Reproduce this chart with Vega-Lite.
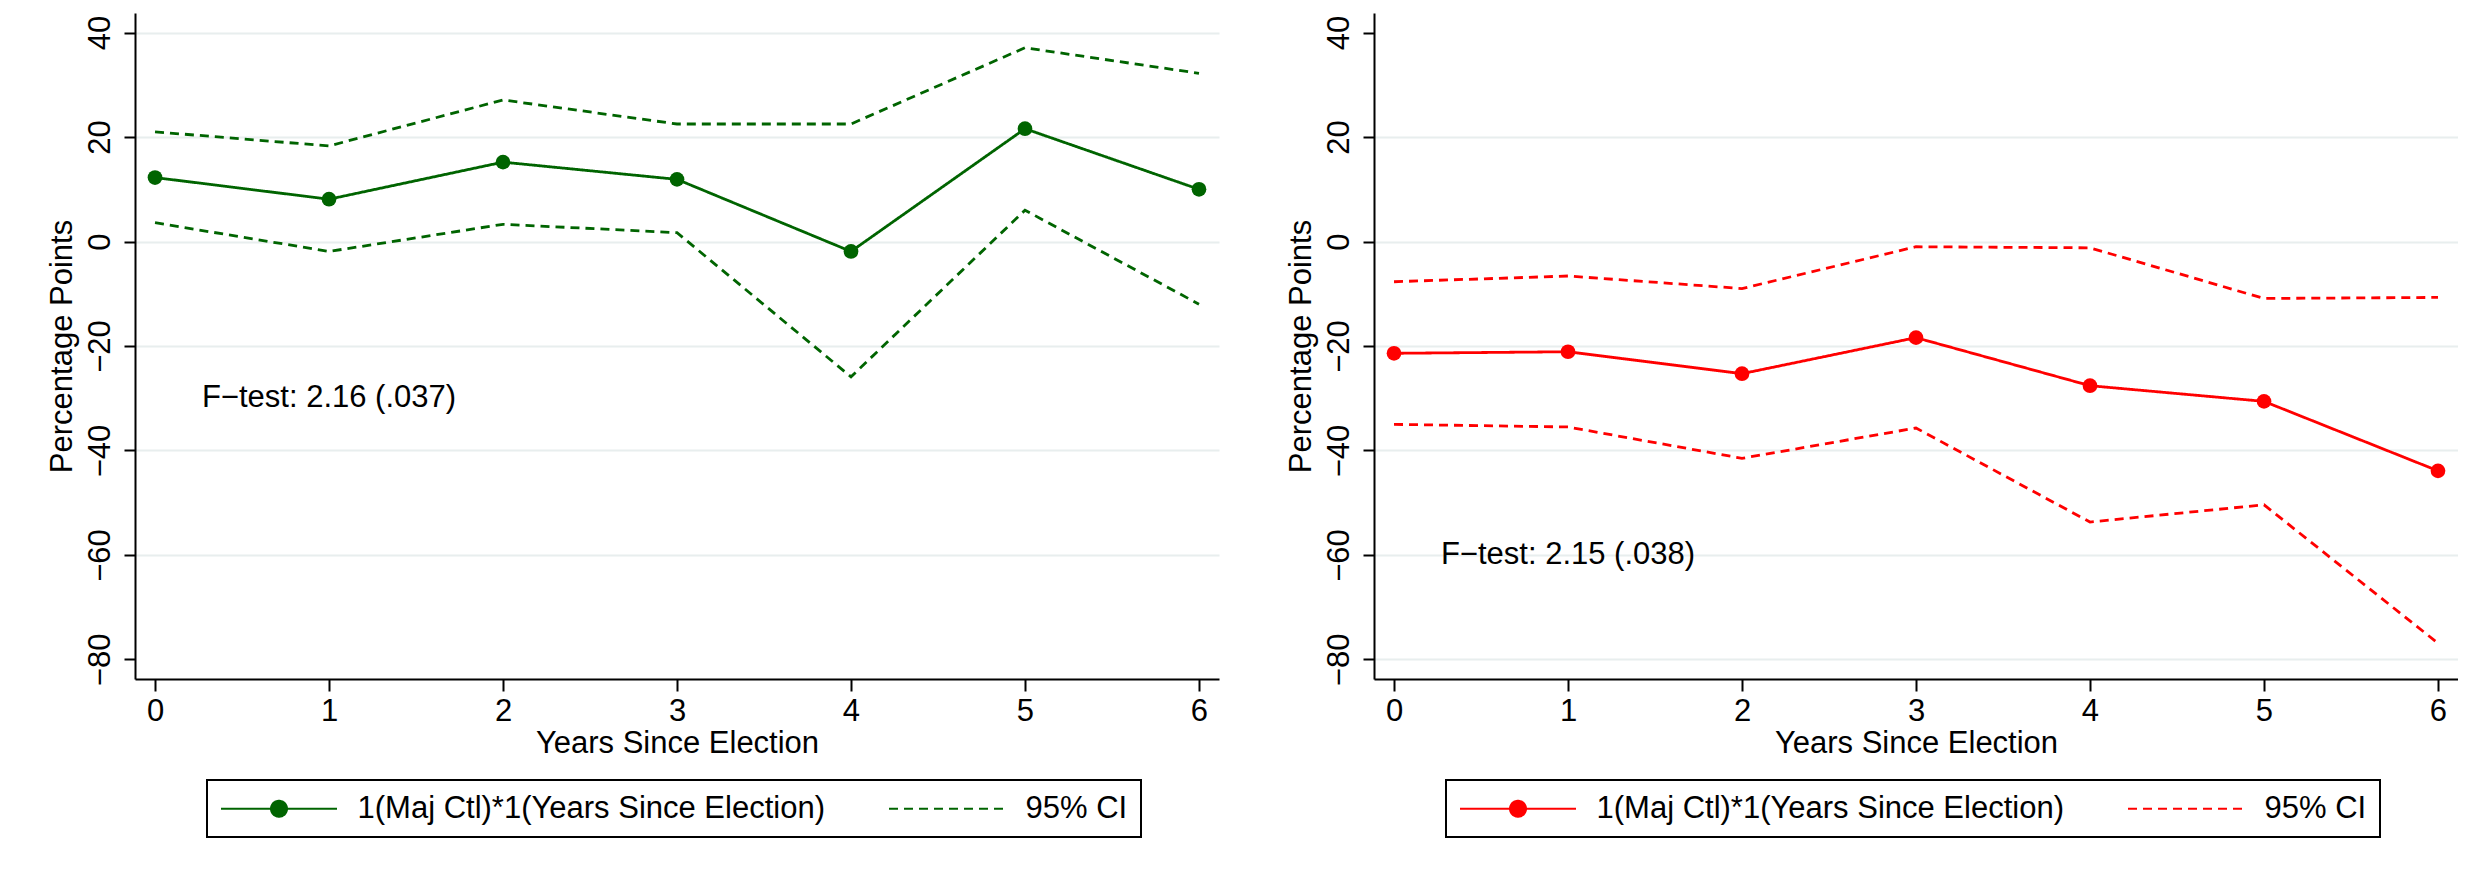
{
  "$schema": "https://vega.github.io/schema/vega-lite/v6.json",
  "background": "white",
  "padding": {"left": 46, "top": 13, "right": 0, "bottom": 0},
  "spacing": 66,
  "datasets": {
    "majority": [
      {"years": 0, "pp": 12.25, "series": "1(Maj Ctl)*1(Years Since Election)", "line": "estimate"},
      {"years": 1, "pp": 8.1, "series": "1(Maj Ctl)*1(Years Since Election)", "line": "estimate"},
      {"years": 2, "pp": 15.2, "series": "1(Maj Ctl)*1(Years Since Election)", "line": "estimate"},
      {"years": 3, "pp": 11.9, "series": "1(Maj Ctl)*1(Years Since Election)", "line": "estimate"},
      {"years": 4, "pp": -1.9, "series": "1(Maj Ctl)*1(Years Since Election)", "line": "estimate"},
      {"years": 5, "pp": 21.6, "series": "1(Maj Ctl)*1(Years Since Election)", "line": "estimate"},
      {"years": 6, "pp": 10.0, "series": "1(Maj Ctl)*1(Years Since Election)", "line": "estimate"},
      {"years": 0, "pp": 21.0, "series": "95% CI", "line": "upper"},
      {"years": 1, "pp": 18.3, "series": "95% CI", "line": "upper"},
      {"years": 2, "pp": 27.1, "series": "95% CI", "line": "upper"},
      {"years": 3, "pp": 22.5, "series": "95% CI", "line": "upper"},
      {"years": 4, "pp": 22.5, "series": "95% CI", "line": "upper"},
      {"years": 5, "pp": 37.1, "series": "95% CI", "line": "upper"},
      {"years": 6, "pp": 32.2, "series": "95% CI", "line": "upper"},
      {"years": 0, "pp": 3.6, "series": "95% CI", "line": "lower"},
      {"years": 1, "pp": -1.9, "series": "95% CI", "line": "lower"},
      {"years": 2, "pp": 3.3, "series": "95% CI", "line": "lower"},
      {"years": 3, "pp": 1.7, "series": "95% CI", "line": "lower"},
      {"years": 4, "pp": -25.9, "series": "95% CI", "line": "lower"},
      {"years": 5, "pp": 6.0, "series": "95% CI", "line": "lower"},
      {"years": 6, "pp": -12.0, "series": "95% CI", "line": "lower"}
    ],
    "minority": [
      {"years": 0, "pp": -21.4, "series": "1(Maj Ctl)*1(Years Since Election)", "line": "estimate"},
      {"years": 1, "pp": -21.1, "series": "1(Maj Ctl)*1(Years Since Election)", "line": "estimate"},
      {"years": 2, "pp": -25.3, "series": "1(Maj Ctl)*1(Years Since Election)", "line": "estimate"},
      {"years": 3, "pp": -18.4, "series": "1(Maj Ctl)*1(Years Since Election)", "line": "estimate"},
      {"years": 4, "pp": -27.6, "series": "1(Maj Ctl)*1(Years Since Election)", "line": "estimate"},
      {"years": 5, "pp": -30.6, "series": "1(Maj Ctl)*1(Years Since Election)", "line": "estimate"},
      {"years": 6, "pp": -43.9, "series": "1(Maj Ctl)*1(Years Since Election)", "line": "estimate"},
      {"years": 0, "pp": -7.7, "series": "95% CI", "line": "upper"},
      {"years": 1, "pp": -6.6, "series": "95% CI", "line": "upper"},
      {"years": 2, "pp": -9.0, "series": "95% CI", "line": "upper"},
      {"years": 3, "pp": -1.0, "series": "95% CI", "line": "upper"},
      {"years": 4, "pp": -1.2, "series": "95% CI", "line": "upper"},
      {"years": 5, "pp": -10.9, "series": "95% CI", "line": "upper"},
      {"years": 6, "pp": -10.7, "series": "95% CI", "line": "upper"},
      {"years": 0, "pp": -35.0, "series": "95% CI", "line": "lower"},
      {"years": 1, "pp": -35.5, "series": "95% CI", "line": "lower"},
      {"years": 2, "pp": -41.5, "series": "95% CI", "line": "lower"},
      {"years": 3, "pp": -35.7, "series": "95% CI", "line": "lower"},
      {"years": 4, "pp": -53.7, "series": "95% CI", "line": "lower"},
      {"years": 5, "pp": -50.4, "series": "95% CI", "line": "lower"},
      {"years": 6, "pp": -76.9, "series": "95% CI", "line": "lower"}
    ]
  },
  "hconcat": [
    {
      "width": 1084,
      "height": 666,
      "data": {"name": "majority"},
      "layer": [
        {
          "mark": {"type": "line", "strokeWidth": 2.8},
          "encoding": {
            "x": {"field": "years", "type": "quantitative",
                  "scale": {"domain": [-0.115, 6.115], "nice": false, "zero": false},
                  "axis": {"values": [0, 1, 2, 3, 4, 5, 6], "format": "d", "title": "Years Since Election", "grid": false, "tickSize": 12, "labelPadding": 5, "titlePadding": 2}},
            "y": {"field": "pp", "type": "quantitative",
                  "scale": {"domain": [-83.75, 43.75], "nice": false, "zero": false},
                  "axis": {"values": [-80, -60, -40, -20, 0, 20, 40], "title": "Percentage Points", "grid": true,
                           "gridColor": "#e8eeee", "gridWidth": 2,
                           "gridOpacity": {"condition": {"test": "datum.value === -80", "value": 0}, "value": 1},
                           "labelAngle": -90, "labelAlign": "center", "labelBaseline": "alphabetic",
                           "labelPadding": 15, "tickSize": 11, "titlePadding": 6}},
            "detail": {"field": "line"},
            "stroke": {
              "field": "series", "type": "nominal",
              "scale": {"domain": ["1(Maj Ctl)*1(Years Since Election)", "95% CI"], "range": ["#006400", "#006400"]},
              "legend": {
                "orient": "none", "legendX": 72, "legendY": 767, "direction": "horizontal", "title": null,
                "symbolSize": 400, "symbolOffset": 43.5, "labelOffset": 63, "columnPadding": 60,
                "symbolStrokeWidth": 2, "symbolOpacity": 1,
                "padding": 13, "strokeColor": "black", "fillColor": "white",
                "labelFont": "Liberation Sans", "labelFontSize": 31, "labelColor": "black", "labelLimit": 1000
              }
            },
            "strokeDash": {
              "field": "series", "type": "nominal",
              "scale": {"domain": ["1(Maj Ctl)*1(Years Since Election)", "95% CI"], "range": [[1, 0], [9, 6]]},
              "legend": {
                "orient": "none", "legendX": 72, "legendY": 767, "direction": "horizontal", "title": null,
                "symbolSize": 400, "symbolOffset": 43.5, "labelOffset": 63, "columnPadding": 60,
                "symbolStrokeWidth": 2, "symbolOpacity": 1,
                "padding": 13, "strokeColor": "black", "fillColor": "white",
                "labelFont": "Liberation Sans", "labelFontSize": 31, "labelColor": "black", "labelLimit": 1000
              }
            }
          }
        },
        {
          "transform": [{"filter": "datum.line === 'legend key'"}],
          "mark": {"type": "point", "filled": true, "fill": "#006400", "strokeWidth": 2, "opacity": 1},
          "encoding": {
            "x": {"field": "years", "type": "quantitative"},
            "y": {"field": "pp", "type": "quantitative"},
            "shape": {
              "field": "series", "type": "nominal",
              "scale": {"domain": ["1(Maj Ctl)*1(Years Since Election)", "95% CI"],
                        "range": ["M-5.8,0H5.8M-0.8,0A0.8,0.8,0,1,1,0.8,0A0.8,0.8,0,1,1,-0.8,0Z", "M-5.8,0H5.8"]},
              "legend": {
                "orient": "none", "legendX": 72, "legendY": 767, "direction": "horizontal", "title": null,
                "symbolSize": 400, "symbolOffset": 43.5, "labelOffset": 63, "columnPadding": 60,
                "symbolStrokeWidth": 2, "symbolOpacity": 1,
                "padding": 13, "strokeColor": "black", "fillColor": "white",
                "labelFont": "Liberation Sans", "labelFontSize": 31, "labelColor": "black", "labelLimit": 1000
              }
            }
          }
        },
        {
          "transform": [{"filter": "datum.line === 'estimate'"}],
          "mark": {"type": "point", "filled": true, "opacity": 1, "size": 216, "color": "#006400"},
          "encoding": {
            "x": {"field": "years", "type": "quantitative"},
            "y": {"field": "pp", "type": "quantitative"}
          }
        },
        {
          "data": {"values": [{"years": 1, "pp": -30, "note": "F−test: 2.16 (.037)"}]},
          "mark": {"type": "text", "align": "center", "baseline": "middle", "font": "Liberation Sans", "fontSize": 31, "color": "black"},
          "encoding": {
            "x": {"field": "years", "type": "quantitative"},
            "y": {"field": "pp", "type": "quantitative"},
            "text": {"field": "note"}
          }
        }
      ]
    },
    {
      "width": 1084,
      "height": 666,
      "data": {"name": "minority"},
      "layer": [
        {
          "mark": {"type": "line", "strokeWidth": 2.8},
          "encoding": {
            "x": {"field": "years", "type": "quantitative",
                  "scale": {"domain": [-0.115, 6.115], "nice": false, "zero": false},
                  "axis": {"values": [0, 1, 2, 3, 4, 5, 6], "format": "d", "title": "Years Since Election", "grid": false, "tickSize": 12, "labelPadding": 5, "titlePadding": 2}},
            "y": {"field": "pp", "type": "quantitative",
                  "scale": {"domain": [-83.75, 43.75], "nice": false, "zero": false},
                  "axis": {"values": [-80, -60, -40, -20, 0, 20, 40], "title": "Percentage Points", "grid": true,
                           "gridColor": "#e8eeee", "gridWidth": 2,
                           "gridOpacity": {"condition": {"test": "datum.value === 40", "value": 0}, "value": 1},
                           "labelAngle": -90, "labelAlign": "center", "labelBaseline": "alphabetic",
                           "labelPadding": 15, "tickSize": 11, "titlePadding": 6}},
            "detail": {"field": "line"},
            "stroke": {
              "field": "series", "type": "nominal",
              "scale": {"domain": ["1(Maj Ctl)*1(Years Since Election)", "95% CI"], "range": ["#ff0000", "#ff0000"]},
              "legend": {
                "orient": "none", "legendX": 72, "legendY": 767, "direction": "horizontal", "title": null,
                "symbolSize": 400, "symbolOffset": 43.5, "labelOffset": 63, "columnPadding": 60,
                "symbolStrokeWidth": 2, "symbolOpacity": 1,
                "padding": 13, "strokeColor": "black", "fillColor": "white",
                "labelFont": "Liberation Sans", "labelFontSize": 31, "labelColor": "black", "labelLimit": 1000
              }
            },
            "strokeDash": {
              "field": "series", "type": "nominal",
              "scale": {"domain": ["1(Maj Ctl)*1(Years Since Election)", "95% CI"], "range": [[1, 0], [9, 6]]},
              "legend": {
                "orient": "none", "legendX": 72, "legendY": 767, "direction": "horizontal", "title": null,
                "symbolSize": 400, "symbolOffset": 43.5, "labelOffset": 63, "columnPadding": 60,
                "symbolStrokeWidth": 2, "symbolOpacity": 1,
                "padding": 13, "strokeColor": "black", "fillColor": "white",
                "labelFont": "Liberation Sans", "labelFontSize": 31, "labelColor": "black", "labelLimit": 1000
              }
            }
          }
        },
        {
          "transform": [{"filter": "datum.line === 'legend key'"}],
          "mark": {"type": "point", "filled": true, "fill": "#ff0000", "strokeWidth": 2, "opacity": 1},
          "encoding": {
            "x": {"field": "years", "type": "quantitative"},
            "y": {"field": "pp", "type": "quantitative"},
            "shape": {
              "field": "series", "type": "nominal",
              "scale": {"domain": ["1(Maj Ctl)*1(Years Since Election)", "95% CI"],
                        "range": ["M-5.8,0H5.8M-0.8,0A0.8,0.8,0,1,1,0.8,0A0.8,0.8,0,1,1,-0.8,0Z", "M-5.8,0H5.8"]},
              "legend": {
                "orient": "none", "legendX": 72, "legendY": 767, "direction": "horizontal", "title": null,
                "symbolSize": 400, "symbolOffset": 43.5, "labelOffset": 63, "columnPadding": 60,
                "symbolStrokeWidth": 2, "symbolOpacity": 1,
                "padding": 13, "strokeColor": "black", "fillColor": "white",
                "labelFont": "Liberation Sans", "labelFontSize": 31, "labelColor": "black", "labelLimit": 1000
              }
            }
          }
        },
        {
          "transform": [{"filter": "datum.line === 'estimate'"}],
          "mark": {"type": "point", "filled": true, "opacity": 1, "size": 216, "color": "#ff0000"},
          "encoding": {
            "x": {"field": "years", "type": "quantitative"},
            "y": {"field": "pp", "type": "quantitative"}
          }
        },
        {
          "data": {"values": [{"years": 1, "pp": -60, "note": "F−test: 2.15 (.038)"}]},
          "mark": {"type": "text", "align": "center", "baseline": "middle", "font": "Liberation Sans", "fontSize": 31, "color": "black"},
          "encoding": {
            "x": {"field": "years", "type": "quantitative"},
            "y": {"field": "pp", "type": "quantitative"},
            "text": {"field": "note"}
          }
        }
      ]
    }
  ],
  "resolve": {
    "scale": {"x": "independent", "y": "independent", "stroke": "independent", "strokeDash": "independent", "shape": "independent"},
    "legend": {"stroke": "independent", "strokeDash": "independent", "shape": "independent"}
  },
  "config": {
    "view": {"stroke": null},
    "font": "Liberation Sans",
    "legend": {"strokeWidth": 2},
    "axis": {
      "domainColor": "black", "domainWidth": 2,
      "tickColor": "black", "tickWidth": 2,
      "labelFont": "Liberation Sans", "labelFontSize": 31, "labelColor": "black",
      "titleFont": "Liberation Sans", "titleFontSize": 31, "titleColor": "black", "titleFontWeight": "normal"
    }
  }
}
